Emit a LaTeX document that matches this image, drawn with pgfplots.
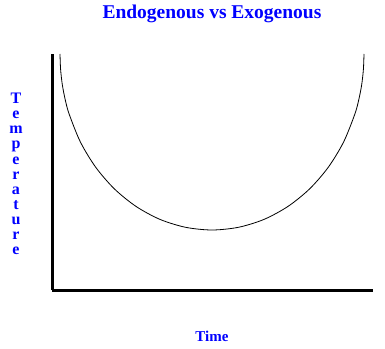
\documentclass[border=0pt]{standalone}
\usepackage{fontspec}
\setmainfont{Liberation Serif}
\usepackage{pgfplots}
\pgfplotsset{compat=1.18}
\definecolor{tblue}{RGB}{0,0,255}
\begin{document}
\begin{tikzpicture}[x=1pt,y=1pt]
\path[use as bounding box] (-52,-58) rectangle (333,290);
\begin{axis}[
  at={(0,0)}, anchor=origin,
  scale only axis, width=321pt, height=236pt,
  xmin=52, xmax=373, ymin=0, ymax=236,
  axis lines=left,
  axis line style={line width=3pt, -},
  xtick=\empty, ytick=\empty,
  clip=false,
]
\addplot[black, line width=0.8pt, smooth, tension=0.5] coordinates {
(60,236) (60.6,220.7) (62.3,205.4) (65.2,190.4) (69.2,175.8) (80.4,148) (95.6,122.9)
(114.3,101.2) (136,83.6) (160,70.6) (185.6,62.7) (212,60) (238.4,62.7) (264,70.6)
(288,83.6) (309.7,101.2) (328.4,122.9) (343.6,148) (354.8,175.8) (358.8,190.4)
(361.7,205.4) (363.4,220.7) (364,236)
};
\end{axis}
\node[text=tblue, font=\fontsize{19.5}{21}\selectfont\bfseries] at (160,276) {Endogenous vs Exogenous};
\node[text=tblue, align=center, inner sep=0pt, font=\fontsize{16}{15.1}\selectfont\bfseries] at (-36,116) {T\\e\\m\\p\\e\\r\\a\\t\\u\\r\\e};
\node[text=tblue, font=\fontsize{15}{16}\selectfont\bfseries] at (160,-46) {Time};
\end{tikzpicture}
\end{document}
